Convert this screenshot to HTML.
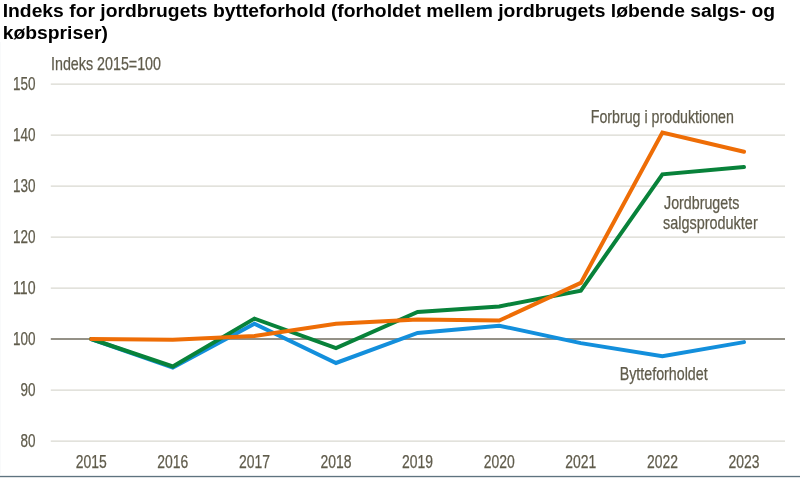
<!DOCTYPE html>
<html><head><meta charset="utf-8"><title>Indeks for jordbrugets bytteforhold</title>
<style>
html,body{margin:0;padding:0;background:#fff;overflow:hidden}
svg{display:block;will-change:transform}
text{font-family:"Liberation Sans",sans-serif}
.t{font-weight:bold;font-size:18.8px;fill:#000}
.l{font-size:17.8px;fill:#5f5b4b;stroke:#5f5b4b;stroke-width:0.25}
.g line{stroke:#d9d8d0;stroke-width:1.3}
.s{fill:none;stroke-width:4;stroke-linejoin:miter;stroke-linecap:round}
</style></head><body>
<svg width="800" height="479" viewBox="0 0 800 479">
<rect width="800" height="479" fill="#fff"/>
<text class="t" x="2.7" y="17.3" textLength="772.3" lengthAdjust="spacingAndGlyphs">Indeks for jordbrugets bytteforhold (forholdet mellem jordbrugets løbende salgs- og</text>
<text class="t" x="2.7" y="38.9" textLength="105.2" lengthAdjust="spacingAndGlyphs">købspriser)</text>
<g class="g"><line x1="50.8" x2="785" y1="84.2" y2="84.2"/><line x1="50.8" x2="785" y1="135.2" y2="135.2"/><line x1="50.8" x2="785" y1="186.2" y2="186.2"/><line x1="50.8" x2="785" y1="237.2" y2="237.2"/><line x1="50.8" x2="785" y1="288.2" y2="288.2"/><line x1="50.8" x2="785" y1="390.2" y2="390.2"/><line x1="50.8" x2="785" y1="441.2" y2="441.2"/></g>
<line x1="50.8" x2="785" y1="339.0" y2="339.0" stroke="#716d5f" stroke-width="1.5"/>
<g class="l">
<text x="51" y="69.8" textLength="110" lengthAdjust="spacingAndGlyphs">Indeks 2015=100</text>
<text x="35.5" y="90.3" text-anchor="end" textLength="22.5" lengthAdjust="spacingAndGlyphs">150</text><text x="35.5" y="141.3" text-anchor="end" textLength="22.5" lengthAdjust="spacingAndGlyphs">140</text><text x="35.5" y="192.3" text-anchor="end" textLength="22.5" lengthAdjust="spacingAndGlyphs">130</text><text x="35.5" y="243.3" text-anchor="end" textLength="22.5" lengthAdjust="spacingAndGlyphs">120</text><text x="35.5" y="294.3" text-anchor="end" textLength="22.5" lengthAdjust="spacingAndGlyphs">110</text><text x="35.5" y="345.3" text-anchor="end" textLength="22.5" lengthAdjust="spacingAndGlyphs">100</text><text x="35.5" y="396.3" text-anchor="end" textLength="15" lengthAdjust="spacingAndGlyphs">90</text><text x="35.5" y="447.3" text-anchor="end" textLength="15" lengthAdjust="spacingAndGlyphs">80</text>
<text x="91.2" y="468.3" text-anchor="middle" textLength="31" lengthAdjust="spacingAndGlyphs">2015</text><text x="172.8" y="468.3" text-anchor="middle" textLength="31" lengthAdjust="spacingAndGlyphs">2016</text><text x="254.4" y="468.3" text-anchor="middle" textLength="31" lengthAdjust="spacingAndGlyphs">2017</text><text x="336.0" y="468.3" text-anchor="middle" textLength="31" lengthAdjust="spacingAndGlyphs">2018</text><text x="417.6" y="468.3" text-anchor="middle" textLength="31" lengthAdjust="spacingAndGlyphs">2019</text><text x="499.2" y="468.3" text-anchor="middle" textLength="31" lengthAdjust="spacingAndGlyphs">2020</text><text x="580.8" y="468.3" text-anchor="middle" textLength="31" lengthAdjust="spacingAndGlyphs">2021</text><text x="662.4" y="468.3" text-anchor="middle" textLength="31" lengthAdjust="spacingAndGlyphs">2022</text><text x="744.0" y="468.3" text-anchor="middle" textLength="31" lengthAdjust="spacingAndGlyphs">2023</text>
<text x="590.7" y="123" textLength="143.2" lengthAdjust="spacingAndGlyphs">Forbrug i produktionen</text>
<text x="664" y="208.5" textLength="75.3" lengthAdjust="spacingAndGlyphs">Jordbrugets</text>
<text x="663" y="228.5" textLength="94.7" lengthAdjust="spacingAndGlyphs">salgsprodukter</text>
<text x="619.7" y="379.5" textLength="88" lengthAdjust="spacingAndGlyphs">Bytteforholdet</text>
</g>
<polyline class="s" stroke="#138fdc" points="91.2,339.0 172.8,367.6 254.4,323.7 336.0,363.0 417.6,332.9 499.2,325.7 580.8,343.1 662.4,356.3 744.0,342.1"/>
<polyline class="s" stroke="#08823a" points="91.2,339.0 172.8,366.5 254.4,318.6 336.0,348.2 417.6,312.0 499.2,306.4 580.8,290.6 662.4,174.3 744.0,167.1"/>
<polyline class="s" stroke="#ee6d06" points="91.2,339.0 172.8,339.8 254.4,335.9 336.0,323.7 417.6,319.6 499.2,320.6 580.8,282.9 662.4,132.5 744.0,151.8"/>
<rect x="0" y="42" width="1" height="432" fill="#f9fafb"/>
<rect x="0" y="475.85" width="800" height="1.35" fill="#5e737f"/>
</svg>
</body></html>
